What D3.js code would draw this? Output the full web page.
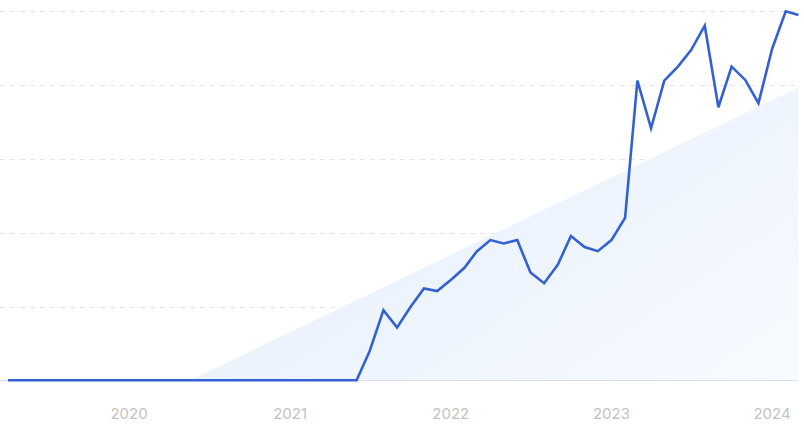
<!DOCTYPE html>
<html>
<head>
<meta charset="utf-8">
<script src="https://cdn.jsdelivr.net/npm/d3@7"></script>
<style>
  html, body { margin: 0; padding: 0; background: #ffffff; }
  svg { display: block; }
</style>
</head>
<body>
<svg id="chart" width="804" height="424"></svg>
<script>
// Monthly data, Apr 2019 .. Mar 2024
const startMonth = "2019-04";
const values = [
  0,0,0,0,0,0,0,0,0,0,
  0,0,0,0,0,0,0,0,0,0,
  0,0,0,0,0,0,0,8,19,14.3,
  19.8,24.9,24.2,27.2,30.5,34.9,38,37.1,38,29.2,
  26.3,31.3,39.1,36.1,35,38,44,81.2,68.3,81.2,
  85,89.5,96.1,74,85,81.4,75.1,89.8,100,99
];
// Trend line endpoints: [month index, value]
const trend = [[0, -23.8], [59, 79.4]];
const gridValues = [0, 20, 40, 60, 80, 100];
const yearTicks = ["2020", "2021", "2022", "2023", "2024"];

const svg = d3.select("#chart");
const W = 804, H = 424;
const parseMonth = d3.timeParse("%Y-%m");
const start = parseMonth(startMonth);
const dates = values.map((v, i) => d3.timeMonth.offset(start, i));
const data = values.map((v, i) => ({ date: dates[i], value: v }));

const x = d3.scaleTime()
  .domain([dates[0], dates[dates.length - 1]])
  .range([8, 798.5]);
const y = d3.scaleLinear().domain([0, 100]).range([380.3, 11.3]);

const defs = svg.append("defs");
const grad = defs.append("linearGradient")
  .attr("id", "trendGrad")
  .attr("x1", "0").attr("y1", "0.3").attr("x2", "1").attr("y2", "1");
grad.append("stop").attr("offset", "0%").attr("stop-color", "#e2edfc");
grad.append("stop").attr("offset", "100%").attr("stop-color", "#fafcff");

defs.append("clipPath").attr("id", "plotClip")
  .append("rect").attr("x", 0).attr("y", 0).attr("width", 798.5).attr("height", y(0));

// Grid lines
svg.append("g").selectAll("line")
  .data(gridValues.filter(v => v > 0))
  .join("line")
  .attr("x1", 0).attr("x2", 798.5)
  .attr("y1", d => Math.round(y(d)) + 0.5).attr("y2", d => Math.round(y(d)) + 0.5)
  .attr("stroke", "#e2e6ed")
  .attr("stroke-width", 1)
  .attr("stroke-dasharray", "5,5");

// Trend area
const trendData = trend.map(([i, v]) => ({ date: d3.timeMonth.offset(start, i), value: v }));
svg.append("path")
  .datum(trendData)
  .attr("clip-path", "url(#plotClip)")
  .attr("fill", "url(#trendGrad)")
  .attr("d", d3.area().x(d => x(d.date)).y0(y(0)).y1(d => y(d.value)));

// Baseline
svg.append("line")
  .attr("x1", 0).attr("x2", 798.5)
  .attr("y1", Math.round(y(0)) + 0.5).attr("y2", Math.round(y(0)) + 0.5)
  .attr("stroke", "#dbe1ea").attr("stroke-width", 1);

// Line
svg.append("path")
  .datum(data)
  .attr("fill", "none")
  .attr("stroke", "#3461d1")
  .attr("stroke-width", 2.6)
  .attr("stroke-linejoin", "miter")
  .attr("d", d3.line().x(d => x(d.date)).y(d => y(d.value)));

// X axis labels
svg.append("g").selectAll("text")
  .data(yearTicks)
  .join("text")
  .attr("x", d => x(parseMonth(d + "-01")))
  .attr("y", 419)
  .attr("text-anchor", "middle")
  .attr("font-family", "Inter, 'Noto Sans', sans-serif")
  .attr("font-size", 15)
  .attr("fill", "#c3c3c3")
  .text(d => d);
</script>
</body>
</html>
